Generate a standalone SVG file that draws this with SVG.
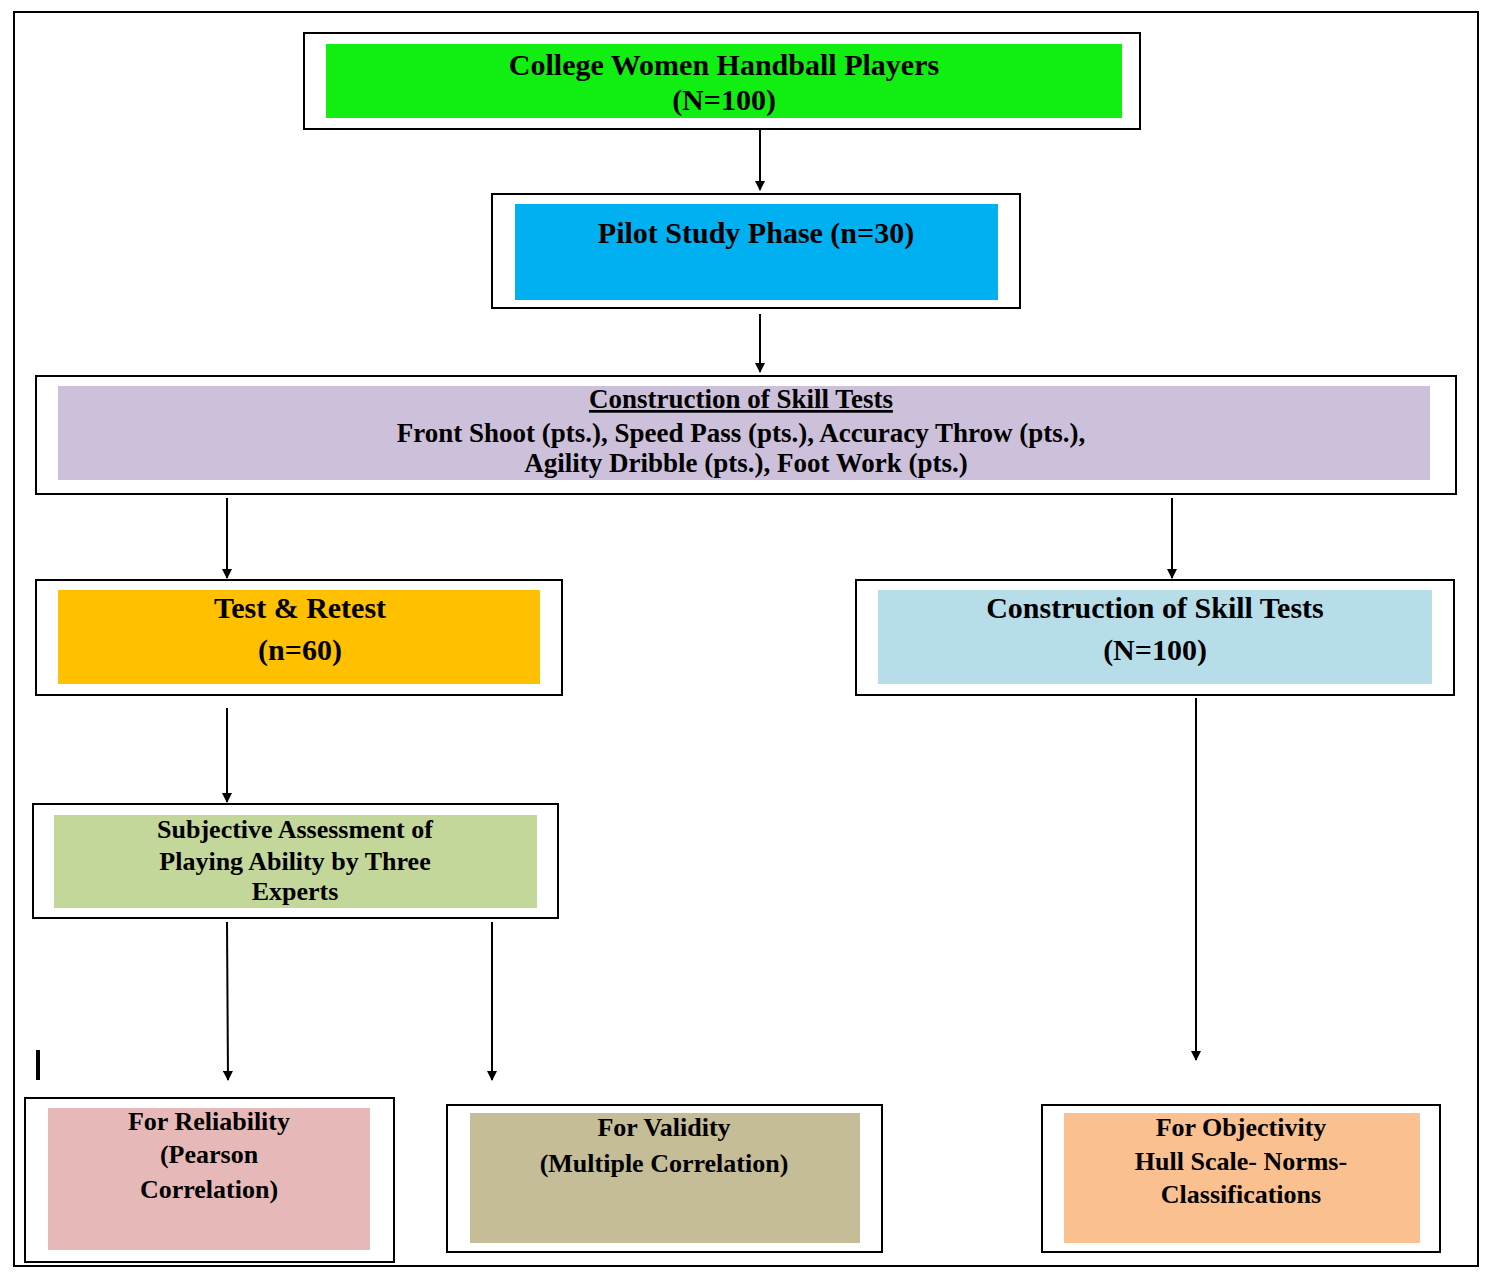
<svg xmlns="http://www.w3.org/2000/svg" width="1492" height="1272" viewBox="0 0 1492 1272">
<style>
.o{fill:#fff;stroke:#000;stroke-width:2}
text{font-family:"Liberation Serif",serif;font-weight:bold;text-anchor:middle;fill:#000}
.c line{stroke:#000;stroke-width:2}
</style>
<defs><marker id="a" markerWidth="10" markerHeight="10" refX="9" refY="5" orient="auto" markerUnits="userSpaceOnUse"><path d="M0,0L10,5L0,10z" fill="#000"/></marker></defs>
<rect x="0" y="0" width="1492" height="1272" fill="#fff"/>
<rect x="14" y="12" width="1464" height="1254" fill="none" stroke="#000" stroke-width="2"/>
<g id="n1"><rect class="o" x="304" y="33" width="836" height="96"/><rect x="326" y="44" width="796" height="74" fill="#11ee11"/>
<text x="724" y="75" font-size="30">College Women Handball Players</text><text x="724" y="110" font-size="30">(N=100)</text></g>
<g id="n2"><rect class="o" x="492" y="194" width="528" height="114"/><rect x="515" y="204" width="483" height="96" fill="#00b0f0"/>
<text x="756" y="243" font-size="30">Pilot Study Phase (n=30)</text></g>
<g id="n3"><rect class="o" x="36" y="376" width="1420" height="118"/><rect x="58" y="386" width="1372" height="94" fill="#ccc0da"/>
<text x="741" y="408" font-size="27" text-decoration="underline">Construction of Skill Tests</text>
<text x="741" y="442" font-size="27">Front Shoot (pts.), Speed Pass (pts.), Accuracy Throw (pts.),</text>
<text x="746" y="472" font-size="27">Agility Dribble (pts.), Foot Work (pts.)</text></g>
<g id="n4"><rect class="o" x="36" y="580" width="526" height="115"/><rect x="58" y="590" width="482" height="94" fill="#ffc000"/>
<text x="300" y="618" font-size="30">Test &amp; Retest</text><text x="300" y="660" font-size="30">(n=60)</text></g>
<g id="n5"><rect class="o" x="856" y="580" width="598" height="115"/><rect x="878" y="590" width="554" height="94" fill="#b7dde8"/>
<text x="1155" y="618" font-size="30">Construction of Skill Tests</text><text x="1155" y="660" font-size="30">(N=100)</text></g>
<g id="n6"><rect class="o" x="33" y="804" width="525" height="114"/><rect x="54" y="815" width="483" height="93" fill="#c4d79b"/>
<text x="295" y="838" font-size="26">Subjective Assessment of</text><text x="295" y="870" font-size="26">Playing Ability by Three</text><text x="295" y="900" font-size="26">Experts</text></g>
<g id="n7"><rect class="o" x="25" y="1098" width="369" height="164"/><rect x="48" y="1108" width="322" height="142" fill="#e6b9b8"/>
<text x="209" y="1130" font-size="26">For Reliability</text><text x="209" y="1163" font-size="26">(Pearson</text><text x="209" y="1198" font-size="26">Correlation)</text></g>
<g id="n8"><rect class="o" x="447" y="1105" width="435" height="147"/><rect x="470" y="1113" width="390" height="130" fill="#c4bd97"/>
<text x="664" y="1136" font-size="26">For Validity</text><text x="664" y="1172" font-size="26">(Multiple Correlation)</text></g>
<g id="n9"><rect class="o" x="1042" y="1105" width="398" height="147"/><rect x="1064" y="1113" width="356" height="130" fill="#fac090"/>
<text x="1241" y="1136" font-size="26">For Objectivity</text><text x="1241" y="1170" font-size="26">Hull Scale- Norms-</text><text x="1241" y="1203" font-size="26">Classifications</text></g>
<rect x="36" y="1050" width="4" height="30" fill="#000"/>
<g class="c">
<line x1="760" y1="130" x2="760" y2="190" marker-end="url(#a)"/>
<line x1="760" y1="314" x2="760" y2="372" marker-end="url(#a)"/>
<line x1="227" y1="498" x2="227" y2="578" marker-end="url(#a)"/>
<line x1="1172" y1="498" x2="1172" y2="578" marker-end="url(#a)"/>
<line x1="227" y1="708" x2="227" y2="802" marker-end="url(#a)"/>
<line x1="227" y1="922" x2="228" y2="1080" marker-end="url(#a)"/>
<line x1="492" y1="922" x2="492" y2="1080" marker-end="url(#a)"/>
<line x1="1196" y1="698" x2="1196" y2="1060" marker-end="url(#a)"/>
</g>
</svg>
